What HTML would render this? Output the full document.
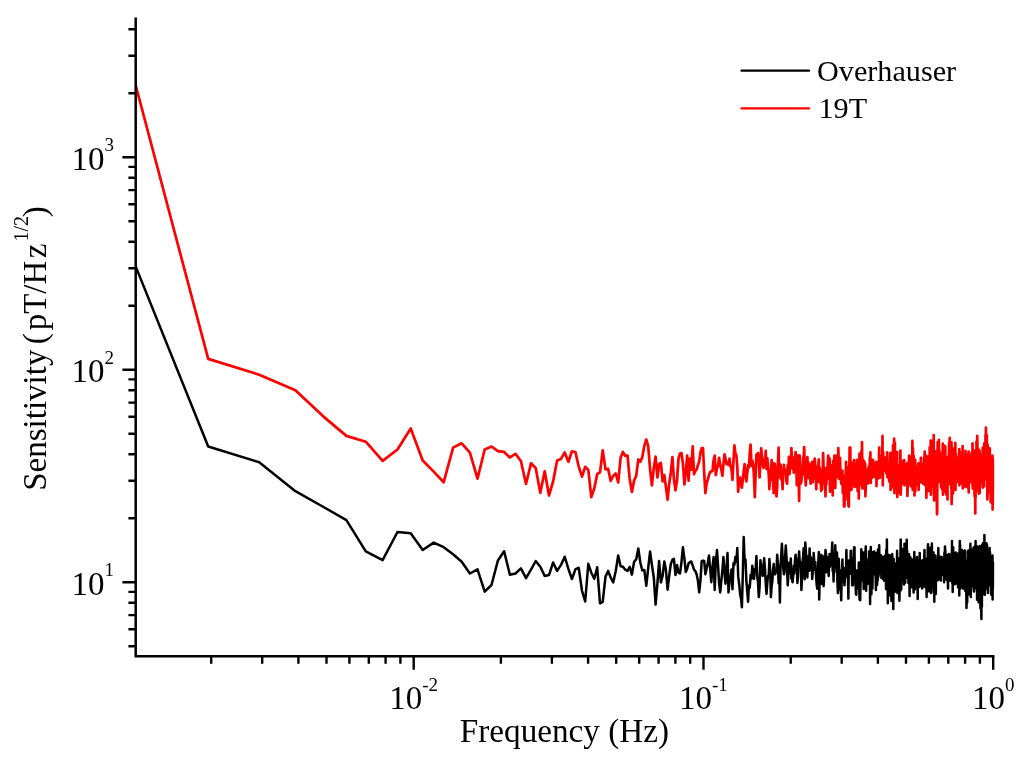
<!DOCTYPE html>
<html><head><meta charset="utf-8"><title>Sensitivity</title>
<style>
html,body{margin:0;padding:0;background:#fff;}
svg{display:block;font-family:"Liberation Serif",serif;}
</style></head>
<body>
<svg width="1024" height="765" viewBox="0 0 1024 765">
<rect width="1024" height="765" fill="#fff"/>
<defs><clipPath id="c"><rect x="135.7" y="10" width="858.7" height="646.2"/></clipPath></defs>
<g clip-path="url(#c)" fill="none" stroke-width="2.6" stroke-linejoin="round" stroke-linecap="round">
<path stroke="#000" stroke-width="2.5" d="M121.0,230.0 L208.2,446.5 L259.2,462.3 L295.4,491.2 L323.5,507.0 L346.4,520.2 L365.8,551.3 L382.6,560.2 L397.5,532.0 L410.7,533.2 L422.7,550.0 L433.7,542.6 L443.7,547.2 L453.1,554.2 L461.7,561.8 L469.9,573.5 L477.5,569.3 L484.7,591.6 L491.5,585.0 L497.9,560.5 L504.1,551.3 L509.9,574.8 L515.5,573.5 L520.9,568.4 L526.0,578.2 L531.0,569.6 L535.7,561.0 L540.3,566.8 L544.7,575.9 L549.0,575.1 L553.1,562.5 L557.1,570.9 L561.0,564.9 L564.7,556.7 L568.4,568.8 L571.9,579.0 L575.4,569.3 L578.7,567.7 L582.0,590.8 L585.2,601.5 L588.3,563.8 L591.3,572.7 L594.3,578.7 L597.2,567.3 L600.0,603.3 L602.7,601.8 L605.5,576.7 L608.1,570.9 L610.7,577.5 L613.2,582.5 L615.7,571.2 L618.2,555.5 L620.6,566.2 L622.9,566.8 L625.2,569.6 L627.5,570.9 L629.7,566.8 L631.9,574.6 L634.1,561.8 L636.2,559.4 L638.3,548.4 L640.3,562.5 L642.3,570.4 L644.3,569.9 L646.3,585.8 L648.2,568.0 L650.1,551.6 L651.9,564.9 L653.8,577.5 L655.6,604.6 L657.4,583.7 L659.1,561.0 L660.9,582.5 L662.6,575.9 L664.3,561.5 L665.9,569.6 L667.6,589.7 L669.2,575.9 L670.8,564.1 L672.4,559.9 L673.9,558.9 L675.5,575.1 L677.0,564.9 L678.5,572.7 L680.0,573.5 L681.5,561.8 L682.9,547.2 L684.4,558.6 L685.8,572.0 L687.2,568.8 L688.6,563.3 L690.0,562.1 L691.3,561.5 L692.7,565.7 L694.0,569.6 L695.3,570.9 L696.6,574.3 L697.9,580.6 L699.2,592.4 L700.5,579.8 L701.7,561.2 L703.0,560.6 L704.2,561.0 L705.4,574.3 L706.6,568.7 L707.8,562.7 L709.0,555.5 L710.2,569.0 L711.3,582.2 L712.5,567.5 L713.6,557.1 L714.7,590.0 L715.8,562.3 L717.0,550.0 L718.1,566.3 L719.1,583.1 L720.2,592.4 L721.3,580.8 L722.4,570.1 L723.4,557.1 L724.5,572.6 L725.5,583.7 L726.5,567.9 L727.5,553.1 L728.5,592.4 L729.5,582.3 L730.5,577.0 L731.5,569.6 L732.5,589.2 L733.5,563.3 L734.4,564.9 L735.4,557.0 L736.4,561.5 L737.3,548.1 L738.2,576.4 L739.2,584.5 L740.1,593.9 L741.0,598.4 L741.9,607.3 L742.8,574.9 L743.7,537.0 L744.6,560.2 L745.5,559.5 L746.4,581.2 L747.2,590.6 L748.1,601.8 L748.9,585.4 L749.8,587.5 L750.6,574.9 L751.5,578.6 L752.3,565.7 L753.2,575.0 L754.0,579.0 L754.8,568.9 L755.6,570.2 L756.4,556.0 L757.2,576.3 L758.0,582.2 L758.8,597.1 L759.6,587.0 L760.4,560.2 L761.2,566.6 L761.9,571.0 L762.7,575.9 L763.5,566.1 L764.2,558.3 L765.0,569.5 L765.7,582.3 L766.5,593.9 L767.2,584.2 L768.0,576.0 L768.7,576.3 L769.4,558.9 L770.2,571.3 L770.9,597.1 L771.6,586.1 L772.3,581.6 L773.0,570.7 L773.7,564.1 L774.4,574.1 L775.1,574.3 L775.8,571.8 L776.5,571.2 L777.2,554.7 L777.9,564.5 L778.6,583.2 L779.2,566.9 L779.9,602.5 L780.6,564.0 L781.2,556.5 L781.9,543.7 L782.6,557.4 L783.2,567.7 L783.9,574.3 L784.5,572.1 L785.1,557.4 L785.8,545.6 L786.4,555.5 L787.1,568.7 L787.7,585.3 L788.3,575.6 L788.9,562.8 L789.6,564.0 L790.2,573.2 L790.8,558.6 L791.4,578.6 L792.0,578.1 L792.6,582.2 L793.2,575.6 L793.8,565.8 L794.4,573.4 L795.0,559.8 L795.6,554.7 L796.2,564.3 L796.8,558.7 L797.4,582.9 L798.0,576.0 L798.5,562.0 L799.1,551.6 L799.7,561.3 L800.3,562.6 L800.8,564.0 L801.4,590.0 L801.9,578.7 L802.5,562.4 L803.1,557.2 L803.6,548.2 L804.2,573.4 L804.7,579.3 L805.3,542.6 L805.8,550.2 L806.4,559.5 L806.9,560.3 L807.4,577.5 L808.0,556.5 L808.5,560.3 L809.0,570.8 L809.6,548.4 L810.1,565.9 L810.6,557.1 L811.2,570.3 L811.7,558.5 L812.2,579.0 L812.7,572.5 L813.2,566.3 L813.7,553.1 L814.2,561.7 L814.8,569.9 L815.3,562.1 L815.8,571.7 L816.3,579.4 L816.8,585.8 L817.3,588.8 L817.8,578.5 L818.3,562.7 L818.8,552.0 L819.2,599.4 L819.7,577.7 L820.2,571.0 L820.7,554.7 L821.2,582.2 L821.7,583.7 L822.1,557.4 L822.6,555.7 L823.1,578.1 L823.6,586.1 L824.0,579.7 L824.5,560.0 L825.0,561.4 L825.5,550.0 L825.9,552.9 L826.4,572.2 L826.8,556.4 L827.3,563.8 L827.8,564.9 L828.2,558.4 L828.7,575.9 L829.1,564.3 L829.6,553.9 L830.0,566.8 L830.5,555.0 L830.9,556.6 L831.4,563.0 L831.8,551.9 L832.3,542.6 L832.7,571.3 L833.1,567.0 L833.6,581.4 L834.0,561.4 L834.4,564.5 L834.9,554.2 L835.3,545.3 L835.7,567.2 L836.2,558.5 L836.6,572.3 L837.0,552.4 L837.4,581.4 L837.9,593.1 L838.3,585.0 L838.7,558.7 L839.1,566.5 L839.5,587.2 L840.0,589.6 L840.4,570.6 L840.8,586.4 L841.2,600.2 L841.6,583.4 L842.0,576.2 L842.4,559.4 L842.8,572.5 L843.2,579.0 L843.6,567.9 L844.0,579.2 L844.5,585.3 L844.9,578.8 L845.2,575.4 L845.6,568.0 L846.0,572.6 L846.4,550.0 L846.8,576.6 L847.2,571.5 L847.6,564.0 L848.0,578.8 L848.4,598.6 L848.8,560.6 L849.2,561.5 L849.6,566.7 L849.9,560.7 L850.3,573.7 L850.7,551.1 L851.1,550.8 L851.5,572.9 L851.8,565.0 L852.2,585.3 L852.6,558.2 L853.0,585.3 L853.3,574.1 L853.7,574.5 L854.1,547.2 L854.5,547.2 L854.8,574.2 L855.2,578.3 L855.6,581.6 L855.9,593.9 L856.3,594.7 L856.7,570.6 L857.0,585.5 L857.4,574.1 L857.7,585.4 L858.1,577.0 L858.5,588.3 L858.8,562.5 L859.2,583.4 L859.5,599.4 L859.9,581.6 L860.2,600.2 L860.6,579.3 L861.0,574.3 L861.3,549.2 L861.7,563.8 L862.0,577.6 L862.4,568.9 L862.7,575.2 L863.0,581.2 L863.4,552.6 L863.7,588.9 L864.1,562.4 L864.4,582.3 L864.8,552.9 L865.1,578.2 L865.4,553.5 L865.8,546.4 L866.1,590.8 L866.5,577.5 L866.8,575.0 L867.1,566.4 L867.5,583.9 L867.8,564.1 L868.1,576.2 L868.5,558.7 L868.8,574.4 L869.1,551.4 L869.4,561.3 L869.8,551.7 L870.1,604.1 L870.4,566.0 L870.8,546.9 L871.1,564.9 L871.4,594.3 L871.7,568.5 L872.0,552.1 L872.4,588.4 L872.7,571.4 L873.0,562.8 L873.3,557.7 L873.6,573.6 L874.0,557.6 L874.3,551.6 L874.6,560.7 L874.9,574.4 L875.2,569.0 L875.5,567.8 L875.9,590.0 L876.2,563.2 L876.5,580.8 L876.8,552.8 L877.1,584.9 L877.4,565.5 L877.7,580.5 L878.0,549.6 L878.3,570.5 L878.6,576.4 L878.9,554.7 L879.2,545.3 L879.5,573.3 L879.8,558.4 L880.2,571.1 L880.5,564.9 L880.8,570.2 L881.1,555.2 L881.4,577.9 L881.6,558.8 L881.9,558.6 L882.2,573.5 L882.5,562.4 L882.8,557.1 L883.1,579.0 L883.4,563.8 L883.7,570.3 L884.0,580.6 L884.3,562.6 L884.6,560.8 L884.9,555.7 L885.2,579.9 L885.5,579.6 L885.8,563.6 L886.0,589.1 L886.3,549.4 L886.6,580.5 L886.9,539.5 L887.2,589.8 L887.5,554.0 L887.8,603.3 L888.0,590.4 L888.3,566.8 L888.6,581.5 L888.9,556.1 L889.2,580.9 L889.5,562.1 L889.7,595.2 L890.0,555.3 L890.3,583.0 L890.6,579.8 L890.8,586.4 L891.1,562.6 L891.4,600.9 L891.7,583.6 L892.0,559.8 L892.2,553.9 L892.5,558.9 L892.8,561.6 L893.0,585.7 L893.3,609.1 L893.6,558.7 L893.9,588.0 L894.1,568.6 L894.4,591.4 L894.7,585.2 L894.9,590.0 L895.2,564.1 L895.5,581.1 L895.7,563.4 L896.0,575.0 L896.3,591.7 L896.5,568.9 L896.8,581.1 L897.1,550.8 L897.3,585.4 L897.6,593.1 L897.9,566.1 L898.1,584.5 L898.4,558.5 L898.6,577.6 L898.9,560.8 L899.2,580.7 L899.4,600.7 L899.7,586.1 L899.9,558.3 L900.2,590.9 L900.4,560.4 L900.7,539.5 L901.0,556.7 L901.2,589.6 L901.5,562.1 L901.7,576.9 L902.0,553.6 L902.2,571.5 L902.5,549.0 L902.7,573.0 L903.0,555.6 L903.2,571.3 L903.5,552.3 L903.7,578.8 L904.0,584.5 L904.2,574.8 L904.5,543.7 L904.7,579.9 L905.0,550.6 L905.2,582.7 L905.5,547.0 L905.7,569.4 L906.0,554.0 L906.2,571.8 L906.5,577.7 L906.7,539.8 L907.0,564.3 L907.2,551.0 L907.4,568.7 L907.7,555.7 L907.9,576.7 L908.2,557.0 L908.4,583.0 L908.7,560.4 L908.9,580.5 L909.1,554.2 L909.4,579.2 L909.6,596.0 L909.8,558.0 L910.1,577.5 L910.3,557.1 L910.6,561.7 L910.8,580.1 L911.0,571.1 L911.3,580.2 L911.5,565.3 L911.7,575.6 L912.0,559.4 L912.2,587.4 L912.4,563.5 L912.7,586.4 L912.9,572.8 L913.1,563.4 L913.4,573.3 L913.6,592.4 L913.8,582.4 L914.1,561.7 L914.3,552.0 L914.5,576.6 L914.8,571.0 L915.0,589.3 L915.2,570.0 L915.4,565.3 L915.7,575.0 L915.9,562.4 L916.1,579.5 L916.4,565.6 L916.6,587.1 L916.8,564.1 L917.0,556.9 L917.3,586.5 L917.5,563.6 L917.7,599.1 L917.9,568.2 L918.1,588.1 L918.4,560.6 L918.6,578.2 L918.8,563.9 L919.0,577.5 L919.3,586.1 L919.5,586.8 L919.7,553.1 L919.9,585.9 L920.1,560.7 L920.4,582.9 L920.6,562.5 L920.8,577.8 L921.0,583.1 L921.2,566.8 L921.5,576.7 L921.7,566.2 L921.9,564.9 L922.1,588.4 L922.3,570.8 L922.5,560.2 L922.7,560.2 L923.0,578.3 L923.2,562.7 L923.4,580.8 L923.6,569.2 L923.8,582.0 L924.0,586.5 L924.2,560.5 L924.5,550.0 L924.7,582.3 L924.9,559.1 L925.1,584.3 L925.3,584.4 L925.5,560.0 L925.7,587.4 L925.9,569.2 L926.1,575.4 L926.4,559.4 L926.6,597.1 L926.8,558.5 L927.0,584.9 L927.2,558.4 L927.4,583.4 L927.6,573.3 L927.8,548.6 L928.0,544.2 L928.2,581.9 L928.4,560.7 L928.6,591.3 L928.8,567.0 L929.0,559.2 L929.2,589.9 L929.5,553.7 L929.7,579.7 L929.9,573.7 L930.1,547.7 L930.3,570.7 L930.5,554.6 L930.7,572.0 L930.9,593.1 L931.1,587.0 L931.3,576.9 L931.5,577.7 L931.7,570.5 L931.9,543.4 L932.1,586.0 L932.3,584.2 L932.5,561.8 L932.7,587.0 L932.9,562.8 L933.1,556.6 L933.3,580.2 L933.5,552.4 L933.7,592.4 L933.9,558.3 L934.1,556.5 L934.3,601.8 L934.4,555.9 L934.6,582.0 L934.8,557.5 L935.0,587.4 L935.2,564.3 L935.4,555.5 L935.6,557.8 L935.8,594.0 L936.0,570.4 L936.2,581.2 L936.4,580.3 L936.6,579.3 L936.8,577.9 L937.0,563.4 L937.2,576.9 L937.4,561.0 L937.5,561.6 L937.7,580.3 L937.9,566.0 L938.1,565.7 L938.3,548.0 L938.5,561.3 L938.7,579.5 L938.9,564.7 L939.1,579.1 L939.3,556.6 L939.4,570.0 L939.6,561.6 L939.8,576.2 L940.0,561.2 L940.2,569.8 L940.4,557.0 L940.6,571.3 L940.8,565.2 L940.9,580.6 L941.1,565.8 L941.3,562.4 L941.5,569.7 L941.7,557.1 L941.9,560.0 L942.1,573.7 L942.2,574.6 L942.4,565.5 L942.6,570.2 L942.8,566.9 L943.0,574.2 L943.2,560.4 L943.3,575.0 L943.5,559.0 L943.7,571.5 L943.9,561.3 L944.1,582.2 L944.2,577.8 L944.4,552.8 L944.6,575.0 L944.8,552.0 L945.0,546.4 L945.2,555.6 L945.3,550.0 L945.5,556.3 L945.7,571.3 L945.9,565.4 L946.0,562.7 L946.2,579.3 L946.4,560.3 L946.6,575.6 L946.8,561.8 L946.9,557.9 L947.1,580.3 L947.3,557.2 L947.5,575.5 L947.6,555.1 L947.8,572.3 L948.0,588.4 L948.2,565.2 L948.4,579.5 L948.5,556.7 L948.7,574.8 L948.9,553.9 L949.1,569.8 L949.2,566.9 L949.4,571.8 L949.6,575.1 L949.7,563.9 L949.9,579.4 L950.1,567.2 L950.3,580.7 L950.4,560.2 L950.6,573.2 L950.8,556.5 L951.0,579.8 L951.1,564.6 L951.3,576.0 L951.5,553.5 L951.6,577.5 L951.8,579.5 L952.0,541.1 L952.2,583.1 L952.3,560.0 L952.5,571.9 L952.7,591.9 L952.8,547.7 L953.0,580.8 L953.2,547.3 L953.3,568.3 L953.5,557.0 L953.7,582.1 L953.8,571.2 L954.0,559.5 L954.2,581.3 L954.3,553.2 L954.5,560.0 L954.7,584.3 L954.9,563.0 L955.0,557.4 L955.2,582.6 L955.3,553.9 L955.5,562.0 L955.7,583.0 L955.8,552.4 L956.0,574.3 L956.2,558.4 L956.3,564.7 L956.5,577.5 L956.7,556.1 L956.8,554.1 L957.0,560.5 L957.2,564.0 L957.3,584.0 L957.5,557.1 L957.7,579.4 L957.8,553.6 L958.0,587.2 L958.1,557.8 L958.3,572.4 L958.5,577.0 L958.6,556.0 L958.8,573.0 L958.9,564.5 L959.1,577.0 L959.3,595.5 L959.4,566.5 L959.6,551.7 L959.8,541.1 L959.9,589.1 L960.1,544.4 L960.2,581.0 L960.4,563.9 L960.6,561.1 L960.7,573.1 L960.9,557.4 L961.0,555.6 L961.2,556.1 L961.3,587.6 L961.5,561.5 L961.7,579.2 L961.8,556.0 L962.0,580.5 L962.1,550.0 L962.3,551.5 L962.5,573.8 L962.6,554.4 L962.8,581.4 L962.9,588.4 L963.1,574.9 L963.2,573.3 L963.4,579.2 L963.5,575.1 L963.7,551.3 L963.9,585.5 L964.0,560.7 L964.2,579.1 L964.3,584.7 L964.5,563.5 L964.6,580.7 L964.8,566.8 L964.9,550.5 L965.1,590.8 L965.2,589.6 L965.4,560.3 L965.5,563.4 L965.7,579.4 L965.9,580.2 L966.0,590.0 L966.2,572.7 L966.3,594.1 L966.5,608.0 L966.6,590.0 L966.8,587.6 L966.9,600.3 L967.1,586.2 L967.2,602.6 L967.4,565.9 L967.5,594.2 L967.7,589.0 L967.8,551.6 L968.0,591.8 L968.1,593.4 L968.3,550.5 L968.4,594.4 L968.6,569.1 L968.7,588.3 L968.9,588.8 L969.0,557.3 L969.2,558.4 L969.3,552.5 L969.5,575.0 L969.6,554.4 L969.8,572.5 L969.9,562.4 L970.1,583.9 L970.2,572.2 L970.4,543.7 L970.5,577.0 L970.6,584.5 L970.8,597.1 L970.9,564.4 L971.1,580.0 L971.2,587.5 L971.4,549.5 L971.5,584.0 L971.7,582.5 L971.8,561.6 L972.0,570.2 L972.1,580.2 L972.3,549.7 L972.4,580.9 L972.5,565.9 L972.7,585.1 L972.8,553.3 L973.0,556.7 L973.1,566.9 L973.3,571.3 L973.4,548.1 L973.6,576.9 L973.7,580.2 L973.8,589.0 L974.0,591.6 L974.1,589.1 L974.3,546.9 L974.4,587.3 L974.6,573.8 L974.7,552.2 L974.8,582.7 L975.0,553.7 L975.1,582.3 L975.3,553.5 L975.4,573.6 L975.6,541.1 L975.7,584.3 L975.8,554.5 L976.0,581.8 L976.1,565.7 L976.3,588.2 L976.4,559.0 L976.5,559.1 L976.7,573.4 L976.8,557.2 L977.0,584.0 L977.1,599.7 L977.2,587.5 L977.4,546.6 L977.5,595.4 L977.7,588.6 L977.8,566.5 L977.9,589.5 L978.1,563.6 L978.2,563.8 L978.3,588.7 L978.5,564.0 L978.6,602.2 L978.8,558.8 L978.9,584.6 L979.0,594.8 L979.2,552.4 L979.3,584.2 L979.4,602.2 L979.6,597.7 L979.7,561.8 L979.9,546.1 L980.0,577.4 L980.1,586.8 L980.3,554.2 L980.4,608.2 L980.5,561.5 L980.7,582.5 L980.8,598.2 L980.9,556.3 L981.1,548.9 L981.2,607.5 L981.4,619.0 L981.5,598.4 L981.6,576.9 L981.8,552.1 L981.9,606.7 L982.0,561.5 L982.2,588.4 L982.3,544.6 L982.4,577.0 L982.6,573.0 L982.7,594.6 L982.8,554.9 L983.0,563.0 L983.1,580.9 L983.2,543.1 L983.4,582.1 L983.5,556.5 L983.6,550.8 L983.8,592.8 L983.9,547.0 L984.0,558.6 L984.2,576.9 L984.3,560.4 L984.4,535.1 L984.6,554.3 L984.7,585.2 L984.8,574.7 L984.9,594.7 L985.1,572.8 L985.2,554.3 L985.3,564.9 L985.5,575.4 L985.6,558.6 L985.7,569.9 L985.9,543.4 L986.0,573.4 L986.1,553.4 L986.3,550.1 L986.4,580.3 L986.5,543.2 L986.6,553.2 L986.8,547.7 L986.9,570.6 L987.0,545.1 L987.2,588.7 L987.3,553.5 L987.4,557.5 L987.5,579.1 L987.7,581.1 L987.8,590.2 L987.9,578.7 L988.1,593.1 L988.2,586.3 L988.3,558.0 L988.4,585.9 L988.6,558.4 L988.7,582.1 L988.8,584.1 L989.0,552.6 L989.1,557.1 L989.2,581.8 L989.3,559.1 L989.5,584.3 L989.6,548.1 L989.7,585.1 L989.8,585.3 L990.0,552.3 L990.1,576.9 L990.2,581.5 L990.3,572.0 L990.5,560.1 L990.6,585.1 L990.7,570.3 L990.8,577.3 L991.0,579.4 L991.1,583.2 L991.2,556.9 L991.3,594.7 L991.5,572.8 L991.6,562.9 L991.7,580.9 L991.8,561.5 L992.0,581.2 L992.1,565.3 L992.2,571.2 L992.3,578.3 L992.5,555.5 L992.6,599.4 L992.7,580.4 L992.8,588.6 L993.0,585.6 L993.1,587.1 L993.2,562.8"/>
<path stroke="#f00" stroke-width="2.7" d="M121.0,30.0 L208.2,358.9 L259.2,374.7 L295.4,390.2 L323.5,416.6 L346.4,435.9 L365.8,441.7 L382.6,460.8 L397.5,449.5 L410.7,428.5 L422.7,460.5 L433.7,471.6 L443.7,482.2 L453.1,447.6 L461.7,443.3 L469.9,452.7 L477.5,478.7 L484.7,449.5 L491.5,446.5 L497.9,451.1 L504.1,451.9 L509.9,457.4 L515.5,453.9 L520.9,461.0 L526.0,484.0 L531.0,463.3 L535.7,468.0 L540.3,492.8 L544.7,471.2 L549.0,495.5 L553.1,481.4 L557.1,460.5 L561.0,458.9 L564.7,452.4 L568.4,461.8 L571.9,451.3 L575.4,452.0 L578.7,466.5 L582.0,476.7 L585.2,466.8 L588.3,469.9 L591.3,497.1 L594.3,488.4 L597.2,474.0 L600.0,472.4 L602.7,450.3 L605.5,469.3 L608.1,468.8 L610.7,480.9 L613.2,475.9 L615.7,473.5 L618.2,482.5 L620.6,457.8 L622.9,452.0 L625.2,455.8 L627.5,455.5 L629.7,479.0 L631.9,491.9 L634.1,480.6 L636.2,475.9 L638.3,459.4 L640.3,461.8 L642.3,457.1 L644.3,446.1 L646.3,439.5 L648.2,446.1 L650.1,469.6 L651.9,485.3 L653.8,468.0 L655.6,456.6 L657.4,477.5 L659.1,464.1 L660.9,463.0 L662.6,481.4 L664.3,475.1 L665.9,486.9 L667.6,499.7 L669.2,483.7 L670.8,472.7 L672.4,457.1 L673.9,479.0 L675.5,490.3 L677.0,480.6 L678.5,458.6 L680.0,453.6 L681.5,453.1 L682.9,463.3 L684.4,484.5 L685.8,472.7 L687.2,455.5 L688.6,480.6 L690.0,458.6 L691.3,469.6 L692.7,446.4 L694.0,474.3 L695.3,471.0 L696.6,469.6 L697.9,465.4 L699.2,461.4 L700.5,452.2 L701.7,448.1 L703.0,448.1 L704.2,473.2 L705.4,493.1 L706.6,483.8 L707.8,479.7 L709.0,475.0 L710.2,472.0 L711.3,471.3 L712.5,471.2 L713.6,460.0 L714.7,455.5 L715.8,475.1 L717.0,468.3 L718.1,465.3 L719.1,457.8 L720.2,465.2 L721.3,469.3 L722.4,475.9 L723.4,464.4 L724.5,454.4 L725.5,458.8 L726.5,464.1 L727.5,462.5 L728.5,464.9 L729.5,458.6 L730.5,466.3 L731.5,469.1 L732.5,479.8 L733.5,460.2 L734.4,445.3 L735.4,453.4 L736.4,455.5 L737.3,467.1 L738.2,491.6 L739.2,478.6 L740.1,477.5 L741.0,483.3 L741.9,487.6 L742.8,479.8 L743.7,471.2 L744.6,464.1 L745.5,475.5 L746.4,481.4 L747.2,473.8 L748.1,465.2 L748.9,467.4 L749.8,452.4 L750.6,444.5 L751.5,465.8 L752.3,460.6 L753.2,464.9 L754.0,476.7 L754.8,497.1 L755.6,474.8 L756.4,454.7 L757.2,458.8 L758.0,453.1 L758.8,461.7 L759.6,477.5 L760.4,461.6 L761.2,448.4 L761.9,455.2 L762.7,464.2 L763.5,468.0 L764.2,459.0 L765.0,463.9 L765.7,450.8 L766.5,469.0 L767.2,458.0 L768.0,464.9 L768.7,473.9 L769.4,489.2 L770.2,470.2 L770.9,479.8 L771.6,460.2 L772.3,468.2 L773.0,481.3 L773.7,493.1 L774.4,463.3 L775.1,466.1 L775.8,484.2 L776.5,496.3 L777.2,486.8 L777.9,464.6 L778.6,447.6 L779.2,477.1 L779.9,467.7 L780.6,464.5 L781.2,479.5 L781.9,474.0 L782.6,489.2 L783.2,473.0 L783.9,464.9 L784.5,470.1 L785.1,469.9 L785.8,471.3 L786.4,481.3 L787.1,483.7 L787.7,465.2 L788.3,474.4 L788.9,456.8 L789.6,474.0 L790.2,462.9 L790.8,467.3 L791.4,448.1 L792.0,461.3 L792.6,468.7 L793.2,457.8 L793.8,472.7 L794.4,465.9 L795.0,458.8 L795.6,452.0 L796.2,459.8 L796.8,485.1 L797.4,482.5 L798.0,455.4 L798.5,468.7 L799.1,501.0 L799.7,455.7 L800.3,482.3 L800.8,483.4 L801.4,481.4 L801.9,470.3 L802.5,474.9 L803.1,457.7 L803.6,458.8 L804.2,447.2 L804.7,465.8 L805.3,478.4 L805.8,485.3 L806.4,472.4 L806.9,467.4 L807.4,457.1 L808.0,478.0 L808.5,462.6 L809.0,466.7 L809.6,464.0 L810.1,475.5 L810.6,483.7 L811.2,474.6 L811.7,465.6 L812.2,461.9 L812.7,482.1 L813.2,466.8 L813.7,478.5 L814.2,461.5 L814.8,458.6 L815.3,468.7 L815.8,478.7 L816.3,489.2 L816.8,466.8 L817.3,467.8 L817.8,481.4 L818.3,465.7 L818.8,459.4 L819.2,482.2 L819.7,467.7 L820.2,471.3 L820.7,480.9 L821.2,490.8 L821.7,481.1 L822.1,489.1 L822.6,477.8 L823.1,453.1 L823.6,468.2 L824.0,483.7 L824.5,477.4 L825.0,475.4 L825.5,496.3 L825.9,468.0 L826.4,484.5 L826.8,473.0 L827.3,479.0 L827.8,462.6 L828.2,455.5 L828.7,458.7 L829.1,465.7 L829.6,458.3 L830.0,491.7 L830.5,466.7 L830.9,478.7 L831.4,465.4 L831.8,484.7 L832.3,468.2 L832.7,495.5 L833.1,461.1 L833.6,477.6 L834.0,465.6 L834.4,455.5 L834.9,460.8 L835.3,488.0 L835.7,468.3 L836.2,471.7 L836.6,455.9 L837.0,474.5 L837.4,477.0 L837.9,466.2 L838.3,448.1 L838.7,461.3 L839.1,478.8 L839.5,477.6 L840.0,457.8 L840.4,470.0 L840.8,472.3 L841.2,483.7 L841.6,476.2 L842.0,474.6 L842.4,470.5 L842.8,492.8 L843.2,475.0 L843.6,488.0 L844.0,506.5 L844.5,506.5 L844.9,481.0 L845.2,496.4 L845.6,485.7 L846.0,461.8 L846.4,475.6 L846.8,467.1 L847.2,488.3 L847.6,499.9 L848.0,473.7 L848.4,505.7 L848.8,506.5 L849.2,484.0 L849.6,447.6 L849.9,490.4 L850.3,447.6 L850.7,489.6 L851.1,471.1 L851.5,489.7 L851.8,462.5 L852.2,471.5 L852.6,484.3 L853.0,479.5 L853.3,465.0 L853.7,479.2 L854.1,460.2 L854.5,486.9 L854.8,468.8 L855.2,479.7 L855.6,464.8 L855.9,480.4 L856.3,486.1 L856.7,486.2 L857.0,459.8 L857.4,486.8 L857.7,491.1 L858.1,482.5 L858.5,466.1 L858.8,498.6 L859.2,468.6 L859.5,453.5 L859.9,485.1 L860.2,457.3 L860.6,482.2 L861.0,462.6 L861.3,451.8 L861.7,467.0 L862.0,442.2 L862.4,488.4 L862.7,479.3 L863.0,459.7 L863.4,474.9 L863.7,465.1 L864.1,461.0 L864.4,488.2 L864.8,471.1 L865.1,463.3 L865.4,496.3 L865.8,486.6 L866.1,476.3 L866.5,482.1 L866.8,473.2 L867.1,482.2 L867.5,472.3 L867.8,469.2 L868.1,483.4 L868.5,468.6 L868.8,466.7 L869.1,479.0 L869.4,475.8 L869.8,457.7 L870.1,471.2 L870.4,452.4 L870.8,482.9 L871.1,464.1 L871.4,475.8 L871.7,462.5 L872.0,469.9 L872.4,467.1 L872.7,477.3 L873.0,459.9 L873.3,474.0 L873.6,475.1 L874.0,475.2 L874.3,465.6 L874.6,475.6 L874.9,463.4 L875.2,477.0 L875.5,466.2 L875.9,473.2 L876.2,461.8 L876.5,486.1 L876.8,464.2 L877.1,473.5 L877.4,468.5 L877.7,478.6 L878.0,473.6 L878.3,465.4 L878.6,472.6 L878.9,462.8 L879.2,447.6 L879.5,461.7 L879.8,477.8 L880.2,459.5 L880.5,472.3 L880.8,456.5 L881.1,473.1 L881.4,458.3 L881.6,474.1 L881.9,457.9 L882.2,470.1 L882.5,435.9 L882.8,485.3 L883.1,451.8 L883.4,462.7 L883.7,457.2 L884.0,464.7 L884.3,457.4 L884.6,470.6 L884.9,457.9 L885.2,464.0 L885.5,459.6 L885.8,471.6 L886.0,461.8 L886.3,472.8 L886.6,473.8 L886.9,462.4 L887.2,452.4 L887.5,477.5 L887.8,468.3 L888.0,467.0 L888.3,472.1 L888.6,463.0 L888.9,465.1 L889.2,481.5 L889.5,479.0 L889.7,466.2 L890.0,468.0 L890.3,453.1 L890.6,490.0 L890.8,479.7 L891.1,453.2 L891.4,479.8 L891.7,460.0 L892.0,487.5 L892.2,458.7 L892.5,455.4 L892.8,471.4 L893.0,445.3 L893.3,477.2 L893.6,480.1 L893.9,460.5 L894.1,438.5 L894.4,493.1 L894.7,483.4 L894.9,442.8 L895.2,480.6 L895.5,453.2 L895.7,474.7 L896.0,458.2 L896.3,476.1 L896.5,455.6 L896.8,478.6 L897.1,452.2 L897.3,497.1 L897.6,476.3 L897.9,488.4 L898.1,472.1 L898.4,465.1 L898.6,471.9 L898.9,480.0 L899.2,487.4 L899.4,492.8 L899.7,482.1 L899.9,480.7 L900.2,463.4 L900.4,450.5 L900.7,494.7 L901.0,481.8 L901.2,470.8 L901.5,472.9 L901.7,466.3 L902.0,483.6 L902.2,461.4 L902.5,479.7 L902.7,464.2 L903.0,481.1 L903.2,467.0 L903.5,484.0 L903.7,471.4 L904.0,477.7 L904.2,460.2 L904.5,485.3 L904.7,466.6 L905.0,483.7 L905.2,482.7 L905.5,464.4 L905.7,466.4 L906.0,466.0 L906.2,465.6 L906.5,483.8 L906.7,474.4 L907.0,472.7 L907.2,463.1 L907.4,496.0 L907.7,485.9 L907.9,470.9 L908.2,485.6 L908.4,465.7 L908.7,480.7 L908.9,467.5 L909.1,455.5 L909.4,471.7 L909.6,468.2 L909.8,456.6 L910.1,474.4 L910.3,457.5 L910.6,484.1 L910.8,465.4 L911.0,486.3 L911.3,478.9 L911.5,461.5 L911.7,481.7 L912.0,460.1 L912.2,459.2 L912.4,440.9 L912.7,490.0 L912.9,448.3 L913.1,455.5 L913.4,475.8 L913.6,455.7 L913.8,458.1 L914.1,482.9 L914.3,467.4 L914.5,495.5 L914.8,475.4 L915.0,459.5 L915.2,461.3 L915.4,491.2 L915.7,466.4 L915.9,485.6 L916.1,471.8 L916.4,482.7 L916.6,471.5 L916.8,483.2 L917.0,484.0 L917.3,467.4 L917.5,477.4 L917.7,483.7 L917.9,473.1 L918.1,482.9 L918.4,463.3 L918.6,490.0 L918.8,480.2 L919.0,470.0 L919.3,479.5 L919.5,474.4 L919.7,479.4 L919.9,470.9 L920.1,480.2 L920.4,466.0 L920.6,482.3 L920.8,457.8 L921.0,477.6 L921.2,469.8 L921.5,464.9 L921.7,473.2 L921.9,475.1 L922.1,472.3 L922.3,465.9 L922.5,479.1 L922.7,463.9 L923.0,483.6 L923.2,477.2 L923.4,468.4 L923.6,468.1 L923.8,471.0 L924.0,457.9 L924.2,474.5 L924.5,457.8 L924.7,451.6 L924.9,485.3 L925.1,479.8 L925.3,467.7 L925.5,476.4 L925.7,479.6 L925.9,482.0 L926.1,455.5 L926.4,497.8 L926.6,463.9 L926.8,464.6 L927.0,466.8 L927.2,490.3 L927.4,457.9 L927.6,459.5 L927.8,481.2 L928.0,484.6 L928.2,456.5 L928.4,490.9 L928.6,461.1 L928.8,473.0 L929.0,464.3 L929.2,456.0 L929.5,481.1 L929.7,447.4 L929.9,485.9 L930.1,461.4 L930.3,458.3 L930.5,482.6 L930.7,440.6 L930.9,494.7 L931.1,479.7 L931.3,451.6 L931.5,447.3 L931.7,478.7 L931.9,455.1 L932.1,478.6 L932.3,472.4 L932.5,440.6 L932.7,441.3 L932.9,481.7 L933.1,450.7 L933.3,486.8 L933.5,487.1 L933.7,435.1 L933.9,487.7 L934.1,500.4 L934.3,470.1 L934.4,483.8 L934.6,464.9 L934.8,479.1 L935.0,479.2 L935.2,465.5 L935.4,481.5 L935.6,491.6 L935.8,451.3 L936.0,499.1 L936.2,499.9 L936.4,499.7 L936.6,460.6 L936.8,495.6 L937.0,514.3 L937.2,510.4 L937.4,454.4 L937.5,471.0 L937.7,442.1 L937.9,482.6 L938.1,465.7 L938.3,478.4 L938.5,457.7 L938.7,467.9 L938.9,439.8 L939.1,460.9 L939.3,450.2 L939.4,468.0 L939.6,457.6 L939.8,477.3 L940.0,467.0 L940.2,482.2 L940.4,470.6 L940.6,481.6 L940.8,455.7 L940.9,480.6 L941.1,487.2 L941.3,480.7 L941.5,458.0 L941.7,486.0 L941.9,452.7 L942.1,489.2 L942.2,464.4 L942.4,471.8 L942.6,454.8 L942.8,443.7 L943.0,494.7 L943.2,459.9 L943.3,474.9 L943.5,465.2 L943.7,445.7 L943.9,490.2 L944.1,482.5 L944.2,455.7 L944.4,489.6 L944.6,471.1 L944.8,446.0 L945.0,491.7 L945.2,456.9 L945.3,446.5 L945.5,490.8 L945.7,468.7 L945.9,457.7 L946.0,476.1 L946.2,457.1 L946.4,494.8 L946.6,486.0 L946.8,459.4 L946.9,490.8 L947.1,474.4 L947.3,467.6 L947.5,499.4 L947.6,464.1 L947.8,460.6 L948.0,457.2 L948.2,458.8 L948.4,484.3 L948.5,463.4 L948.7,455.1 L948.9,479.2 L949.1,442.5 L949.2,483.8 L949.4,458.0 L949.6,483.8 L949.7,437.9 L949.9,472.4 L950.1,452.0 L950.3,478.0 L950.4,465.0 L950.6,479.9 L950.8,445.2 L951.0,481.2 L951.1,464.0 L951.3,488.6 L951.5,442.3 L951.6,504.1 L951.8,496.6 L952.0,465.8 L952.2,491.3 L952.3,456.3 L952.5,479.2 L952.7,454.6 L952.8,450.6 L953.0,493.4 L953.2,448.7 L953.3,455.9 L953.5,452.1 L953.7,472.7 L953.8,474.5 L954.0,458.1 L954.2,487.3 L954.3,454.3 L954.5,488.8 L954.7,458.6 L954.9,470.2 L955.0,481.3 L955.2,455.3 L955.3,442.9 L955.5,490.0 L955.7,454.7 L955.8,473.3 L956.0,453.9 L956.2,469.4 L956.3,460.3 L956.5,463.7 L956.7,477.8 L956.8,463.1 L957.0,477.6 L957.2,465.0 L957.3,481.8 L957.5,466.4 L957.7,475.1 L957.8,462.8 L958.0,470.6 L958.1,462.8 L958.3,476.5 L958.5,457.5 L958.6,474.9 L958.8,461.2 L958.9,475.6 L959.1,463.4 L959.3,449.2 L959.4,485.3 L959.6,462.4 L959.8,451.8 L959.9,477.4 L960.1,458.0 L960.2,456.8 L960.4,474.7 L960.6,454.8 L960.7,469.9 L960.9,470.5 L961.0,460.2 L961.2,475.2 L961.3,455.0 L961.5,475.1 L961.7,483.1 L961.8,456.3 L962.0,473.6 L962.1,457.2 L962.3,478.4 L962.5,457.1 L962.6,446.1 L962.8,488.4 L962.9,471.1 L963.1,485.5 L963.2,458.7 L963.4,473.0 L963.5,456.6 L963.7,475.2 L963.9,461.5 L964.0,470.9 L964.2,458.5 L964.3,482.1 L964.5,477.8 L964.6,467.6 L964.8,467.0 L964.9,458.9 L965.1,471.3 L965.2,466.3 L965.4,471.0 L965.5,450.8 L965.7,486.9 L965.9,474.0 L966.0,474.1 L966.2,454.1 L966.3,477.9 L966.5,459.5 L966.6,460.1 L966.8,458.3 L966.9,456.8 L967.1,456.3 L967.2,477.4 L967.4,478.2 L967.5,467.9 L967.7,459.5 L967.8,480.9 L968.0,471.3 L968.1,475.5 L968.3,463.0 L968.4,488.4 L968.6,451.6 L968.7,492.4 L968.9,460.0 L969.0,477.1 L969.2,479.6 L969.3,470.1 L969.5,456.1 L969.6,478.7 L969.8,467.5 L969.9,477.9 L970.1,461.1 L970.2,461.7 L970.4,482.1 L970.5,468.8 L970.6,475.9 L970.8,460.4 L970.9,455.4 L971.1,482.2 L971.2,461.1 L971.4,461.8 L971.5,470.2 L971.7,452.6 L971.8,479.7 L972.0,469.3 L972.1,478.0 L972.3,457.9 L972.4,463.4 L972.5,443.4 L972.7,488.4 L972.8,461.8 L973.0,469.4 L973.1,474.1 L973.3,482.4 L973.4,454.1 L973.6,476.4 L973.7,488.9 L973.8,450.4 L974.0,486.9 L974.1,463.8 L974.3,469.0 L974.4,488.9 L974.6,496.5 L974.7,465.2 L974.8,493.2 L975.0,451.2 L975.1,479.5 L975.3,513.5 L975.4,455.6 L975.6,497.6 L975.7,468.8 L975.8,491.2 L976.0,450.6 L976.1,491.2 L976.3,459.0 L976.4,481.8 L976.5,441.5 L976.7,490.9 L976.8,461.2 L977.0,452.1 L977.1,459.3 L977.2,435.9 L977.4,443.5 L977.5,452.4 L977.7,488.5 L977.8,458.8 L977.9,454.9 L978.1,473.3 L978.2,457.1 L978.3,480.6 L978.5,459.4 L978.6,480.4 L978.8,449.7 L978.9,493.7 L979.0,492.7 L979.2,467.4 L979.3,469.2 L979.4,481.4 L979.6,450.8 L979.7,493.1 L979.9,470.6 L980.0,473.0 L980.1,481.7 L980.3,468.6 L980.4,467.9 L980.5,482.7 L980.7,473.6 L980.8,482.8 L980.9,460.5 L981.1,455.1 L981.2,458.3 L981.4,465.1 L981.5,457.8 L981.6,468.1 L981.8,479.9 L981.9,472.5 L982.0,467.4 L982.2,473.9 L982.3,460.0 L982.4,472.0 L982.6,465.9 L982.7,447.6 L982.8,487.6 L983.0,460.5 L983.1,456.8 L983.2,450.0 L983.4,474.2 L983.5,476.8 L983.6,453.7 L983.8,479.4 L983.9,448.0 L984.0,478.0 L984.2,486.3 L984.3,443.3 L984.4,463.4 L984.6,479.0 L984.7,458.0 L984.8,472.0 L984.9,446.8 L985.1,445.0 L985.2,475.1 L985.3,463.4 L985.5,435.0 L985.6,478.1 L985.7,442.8 L985.9,427.7 L986.0,450.1 L986.1,466.8 L986.3,443.9 L986.4,435.0 L986.5,479.3 L986.6,466.6 L986.8,435.0 L986.9,479.9 L987.0,448.5 L987.2,461.2 L987.3,470.3 L987.4,499.4 L987.5,496.0 L987.7,444.8 L987.8,476.7 L987.9,456.1 L988.1,485.2 L988.2,491.6 L988.3,455.0 L988.4,486.6 L988.6,487.2 L988.7,488.2 L988.8,465.3 L989.0,485.9 L989.1,470.5 L989.2,492.6 L989.3,469.5 L989.5,492.7 L989.6,465.5 L989.7,489.9 L989.8,448.4 L990.0,489.5 L990.1,492.7 L990.2,474.0 L990.3,493.5 L990.5,472.4 L990.6,484.6 L990.7,502.3 L990.8,463.9 L991.0,494.4 L991.1,479.3 L991.2,502.5 L991.3,467.9 L991.5,501.5 L991.6,497.8 L991.7,471.3 L991.8,498.6 L992.0,481.3 L992.1,461.5 L992.2,492.6 L992.3,487.1 L992.5,455.5 L992.6,509.6 L992.7,481.6 L992.8,470.7 L993.0,504.1 L993.1,458.9 L993.2,489.6"/>
</g>
<path d="M135.7,17.6V657.4M134.5,656.2H994.4" fill="none" stroke="#000" stroke-width="2.5"/>
<path d="M122.4,157.2H135.7M122.4,369.7H135.7M122.4,582.2H135.7M128.4,29.3H135.7M128.4,55.8H135.7M128.4,93.2H135.7M128.4,166.9H135.7M128.4,177.8H135.7M128.4,190.1H135.7M128.4,204.3H135.7M128.4,221.2H135.7M128.4,241.8H135.7M128.4,268.3H135.7M128.4,305.7H135.7M128.4,379.4H135.7M128.4,390.3H135.7M128.4,402.6H135.7M128.4,416.8H135.7M128.4,433.7H135.7M128.4,454.3H135.7M128.4,480.8H135.7M128.4,518.2H135.7M128.4,591.9H135.7M128.4,602.8H135.7M128.4,615.1H135.7M128.4,629.3H135.7M128.4,646.2H135.7M413.7,656.2V669.7M703.5,656.2V669.7M993.2,656.2V669.7M211.2,656.2V663.7M262.2,656.2V663.7M298.4,656.2V663.7M326.5,656.2V663.7M349.4,656.2V663.7M368.8,656.2V663.7M385.6,656.2V663.7M400.4,656.2V663.7M500.9,656.2V663.7M551.9,656.2V663.7M588.1,656.2V663.7M616.2,656.2V663.7M639.2,656.2V663.7M658.6,656.2V663.7M675.4,656.2V663.7M690.2,656.2V663.7M790.7,656.2V663.7M841.7,656.2V663.7M877.9,656.2V663.7M906.0,656.2V663.7M928.9,656.2V663.7M948.3,656.2V663.7M965.1,656.2V663.7M979.9,656.2V663.7" fill="none" stroke="#000" stroke-width="2.4"/>
<g font-size="33" fill="#000">
<text x="114" y="169.8" text-anchor="end">10<tspan font-size="19" dy="-18.5">3</tspan></text>
<text x="114" y="382.3" text-anchor="end">10<tspan font-size="19" dy="-18.5">2</tspan></text>
<text x="114" y="594.8" text-anchor="end">10<tspan font-size="19" dy="-18.5">1</tspan></text>
<text x="413.7" y="709.2" text-anchor="middle">10<tspan font-size="19" dy="-18.7">-2</tspan></text>
<text x="703.4" y="709.2" text-anchor="middle">10<tspan font-size="19" dy="-18.7">-1</tspan></text>
<text x="993.2" y="709.2" text-anchor="middle">10<tspan font-size="19" dy="-18.7">0</tspan></text>
<text x="459.8" y="742.4" font-size="33.2">Frequency (Hz)</text>
<text transform="translate(45.8,490.8) rotate(-90)">Sensitivity<tspan dx="-3"> (</tspan><tspan dx="3">pT/H</tspan><tspan dx="2.5">z</tspan><tspan font-size="20" dy="-18.1" dx="2">1/2</tspan><tspan dy="18.1" dx="-1.2">)</tspan></text>
</g>
<path d="M741.6,70.6H809" stroke="#000" stroke-width="2.4" stroke-linecap="round" fill="none"/>
<path d="M741.6,108.4H809" stroke="#f00" stroke-width="2.4" stroke-linecap="round" fill="none"/>
<g font-size="30.2" fill="#000">
<text x="817" y="80.5">Overhauser</text>
<text x="818.5" y="118.3">19T</text>
</g>
</svg>
</body></html>
